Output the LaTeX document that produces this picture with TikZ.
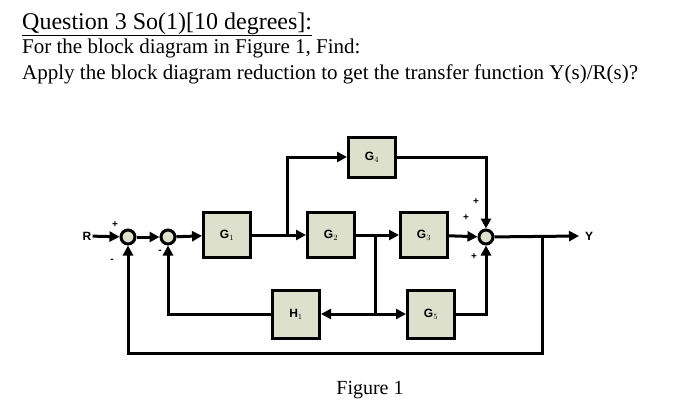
\documentclass[tikz,border=0pt]{standalone}
\usepackage{fontspec}
\setmainfont{Liberation Serif}
\newfontfamily\blk{Liberation Sans}
\usetikzlibrary{arrows.meta}
\definecolor{bfill}{HTML}{DDE0CC}
\begin{document}
\begin{tikzpicture}[x=1pt,y=-1pt,
  blk/.style={draw,line width=3pt,fill=bfill,minimum width=47pt,minimum height=45pt,font=\blk\bfseries\fontsize{12}{14}\selectfont},
  sum/.style={draw,circle,line width=3pt,fill=bfill,minimum size=14pt,inner sep=0pt},
  ln/.style={line width=3pt},
  ar/.style={ln,-{Triangle[length=10pt,width=10pt]}},
  sg/.style={font=\blk\bfseries\fontsize{10}{11}\selectfont,inner sep=0pt},
  lab/.style={font=\blk\bfseries\fontsize{12}{14}\selectfont,inner sep=1pt}]
\useasboundingbox (0,0) rectangle (680,408);
\node[anchor=base west,inner sep=0pt,font=\fontsize{24}{26}\selectfont] (q) at (22,29) {Question 3 So(1)[10 degrees]:};
\draw[line width=0.7pt] ([yshift=-1pt]q.south west) -- ([yshift=-1pt]q.south east);
\node[anchor=base west,inner sep=0pt,font=\fontsize{21}{24}\selectfont] (l2) at (22,53) {For the block diagram in Figure 1, Find:};
\node[anchor=base west,inner sep=0pt,font=\fontsize{21}{24}\selectfont] (l3) at (22,79) {Apply the block diagram reduction to get the transfer function Y(s)/R(s)?};
\node[anchor=base,inner sep=0pt,font=\fontsize{20}{22}\selectfont] (fig) at (370,394) {Figure 1};

\node[lab] (R) at (87,236) {R};
\node[lab] (Y) at (589,236) {Y};
\node[sum] (s1) at (128,237) {};
\node[sum] (s2) at (168,237) {};
\node[sum] (s3) at (486,237) {};
\node[blk] (g1) at (227,235) {G$_1$};
\node[blk] (g2) at (331,235) {G$_2$};
\node[blk] (g3) at (424,235) {G$_3$};
\node[blk,minimum height=40pt] (g4) at (372,157) {G$_4$};
\node[blk,minimum height=48pt] (h1) at (296,314) {H$_1$};
\node[blk,minimum height=48pt] (g5) at (431,314) {G$_5$};
\coordinate (b1) at (287,236);
\coordinate (b2) at (375,236);
\coordinate (b3) at (542,236);
\coordinate (yend) at (579,236);

\draw[ar] (R) -- (s1);
\draw[ar] (s1) -- (s2);
\draw[ar] (s2) -- (g1);
\draw[ar] (g1) -- (g2);
\draw[ar] (b1) |- (g4);
\draw[ar] (g4) -| (s3);
\draw[ar] (g2) -- (g3);
\draw[ar] (g3) -- (s3);
\draw[ln] (b2) -- (375,314);
\draw[ar] (375,314) -- (h1);
\draw[ar] (375,314) -- (g5);
\draw[ar] (g5) -| (s3);
\draw[ar] (h1) -| (s2);
\draw[ar] (s3) -- (yend);
\draw[ar] (b3) -- (542,353) -| (s1);

\node[sg] at (115,225) {+};
\node[sg] at (112,261) {-};
\node[sg] at (160,252) {-};
\node[sg] at (466,218) {+};
\node[sg] at (476,202) {+};
\node[sg] at (474,257) {+};
\end{tikzpicture}
\end{document}
